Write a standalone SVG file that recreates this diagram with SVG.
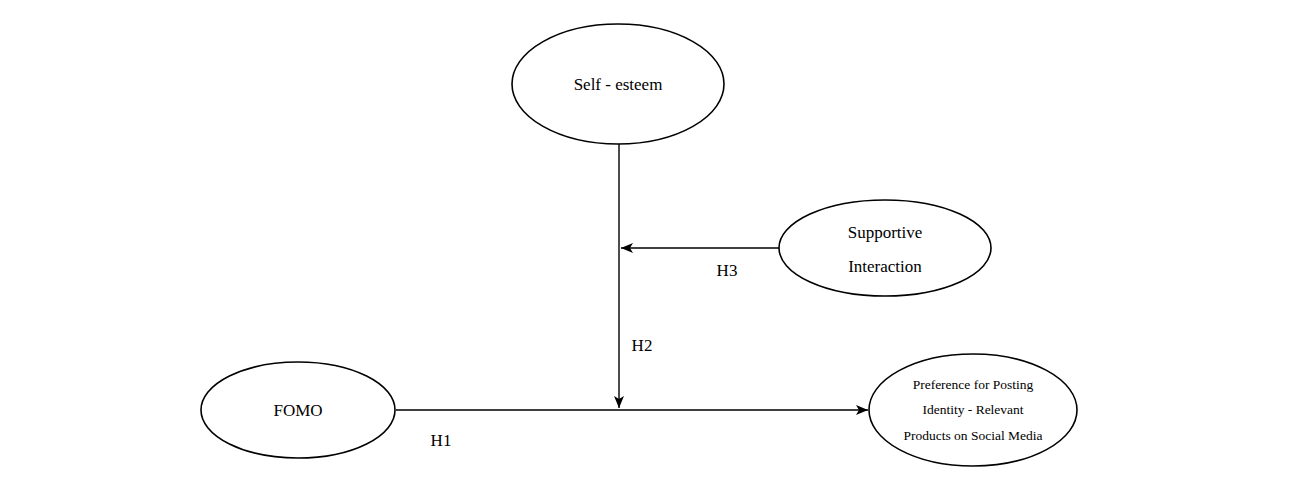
<svg xmlns="http://www.w3.org/2000/svg" width="1290" height="496" viewBox="0 0 1290 496">
<style>
.n{fill:#fff;stroke:#000;stroke-width:1.6}
.c{stroke:#000;stroke-width:1.4;fill:none;marker-end:url(#a)}
text{font-family:"Liberation Serif",serif;fill:#000;text-anchor:middle}
.l{font-size:17px}
.s{font-size:13.5px}
</style>
<defs><marker id="a" viewBox="0 0 12 10" refX="12" refY="5" markerWidth="12" markerHeight="10" markerUnits="userSpaceOnUse" orient="auto"><path d="M0,0 L12,5 L0,10 L3,5 Z" fill="#000"/></marker></defs>
<rect width="1290" height="496" fill="#fff"/>
<g id="connectors">
<path class="c" d="M619,143 V408"/>
<path class="c" d="M396,410 H868"/>
<path class="c" d="M779,248 H621"/>
<text class="l" x="727" y="276">H3</text>
<text class="l" x="642" y="351">H2</text>
<text class="l" x="441" y="446">H1</text>
</g>
<g id="self-esteem"><ellipse class="n" cx="618" cy="84" rx="106" ry="60"/><text class="l" x="618" y="90">Self - esteem</text></g>
<g id="supportive"><ellipse class="n" cx="885" cy="248" rx="106" ry="48"/><text class="l" x="885" y="238">Supportive</text><text class="l" x="885" y="272">Interaction</text></g>
<g id="fomo"><ellipse class="n" cx="298" cy="410" rx="97" ry="48"/><text class="l" x="298" y="416">FOMO</text></g>
<g id="preference"><ellipse class="n" cx="973" cy="410" rx="104" ry="56"/><text class="s" x="973" y="389">Preference for Posting</text><text class="s" x="973" y="414">Identity - Relevant</text><text class="s" x="973" y="440">Products on Social Media</text></g>
</svg>
